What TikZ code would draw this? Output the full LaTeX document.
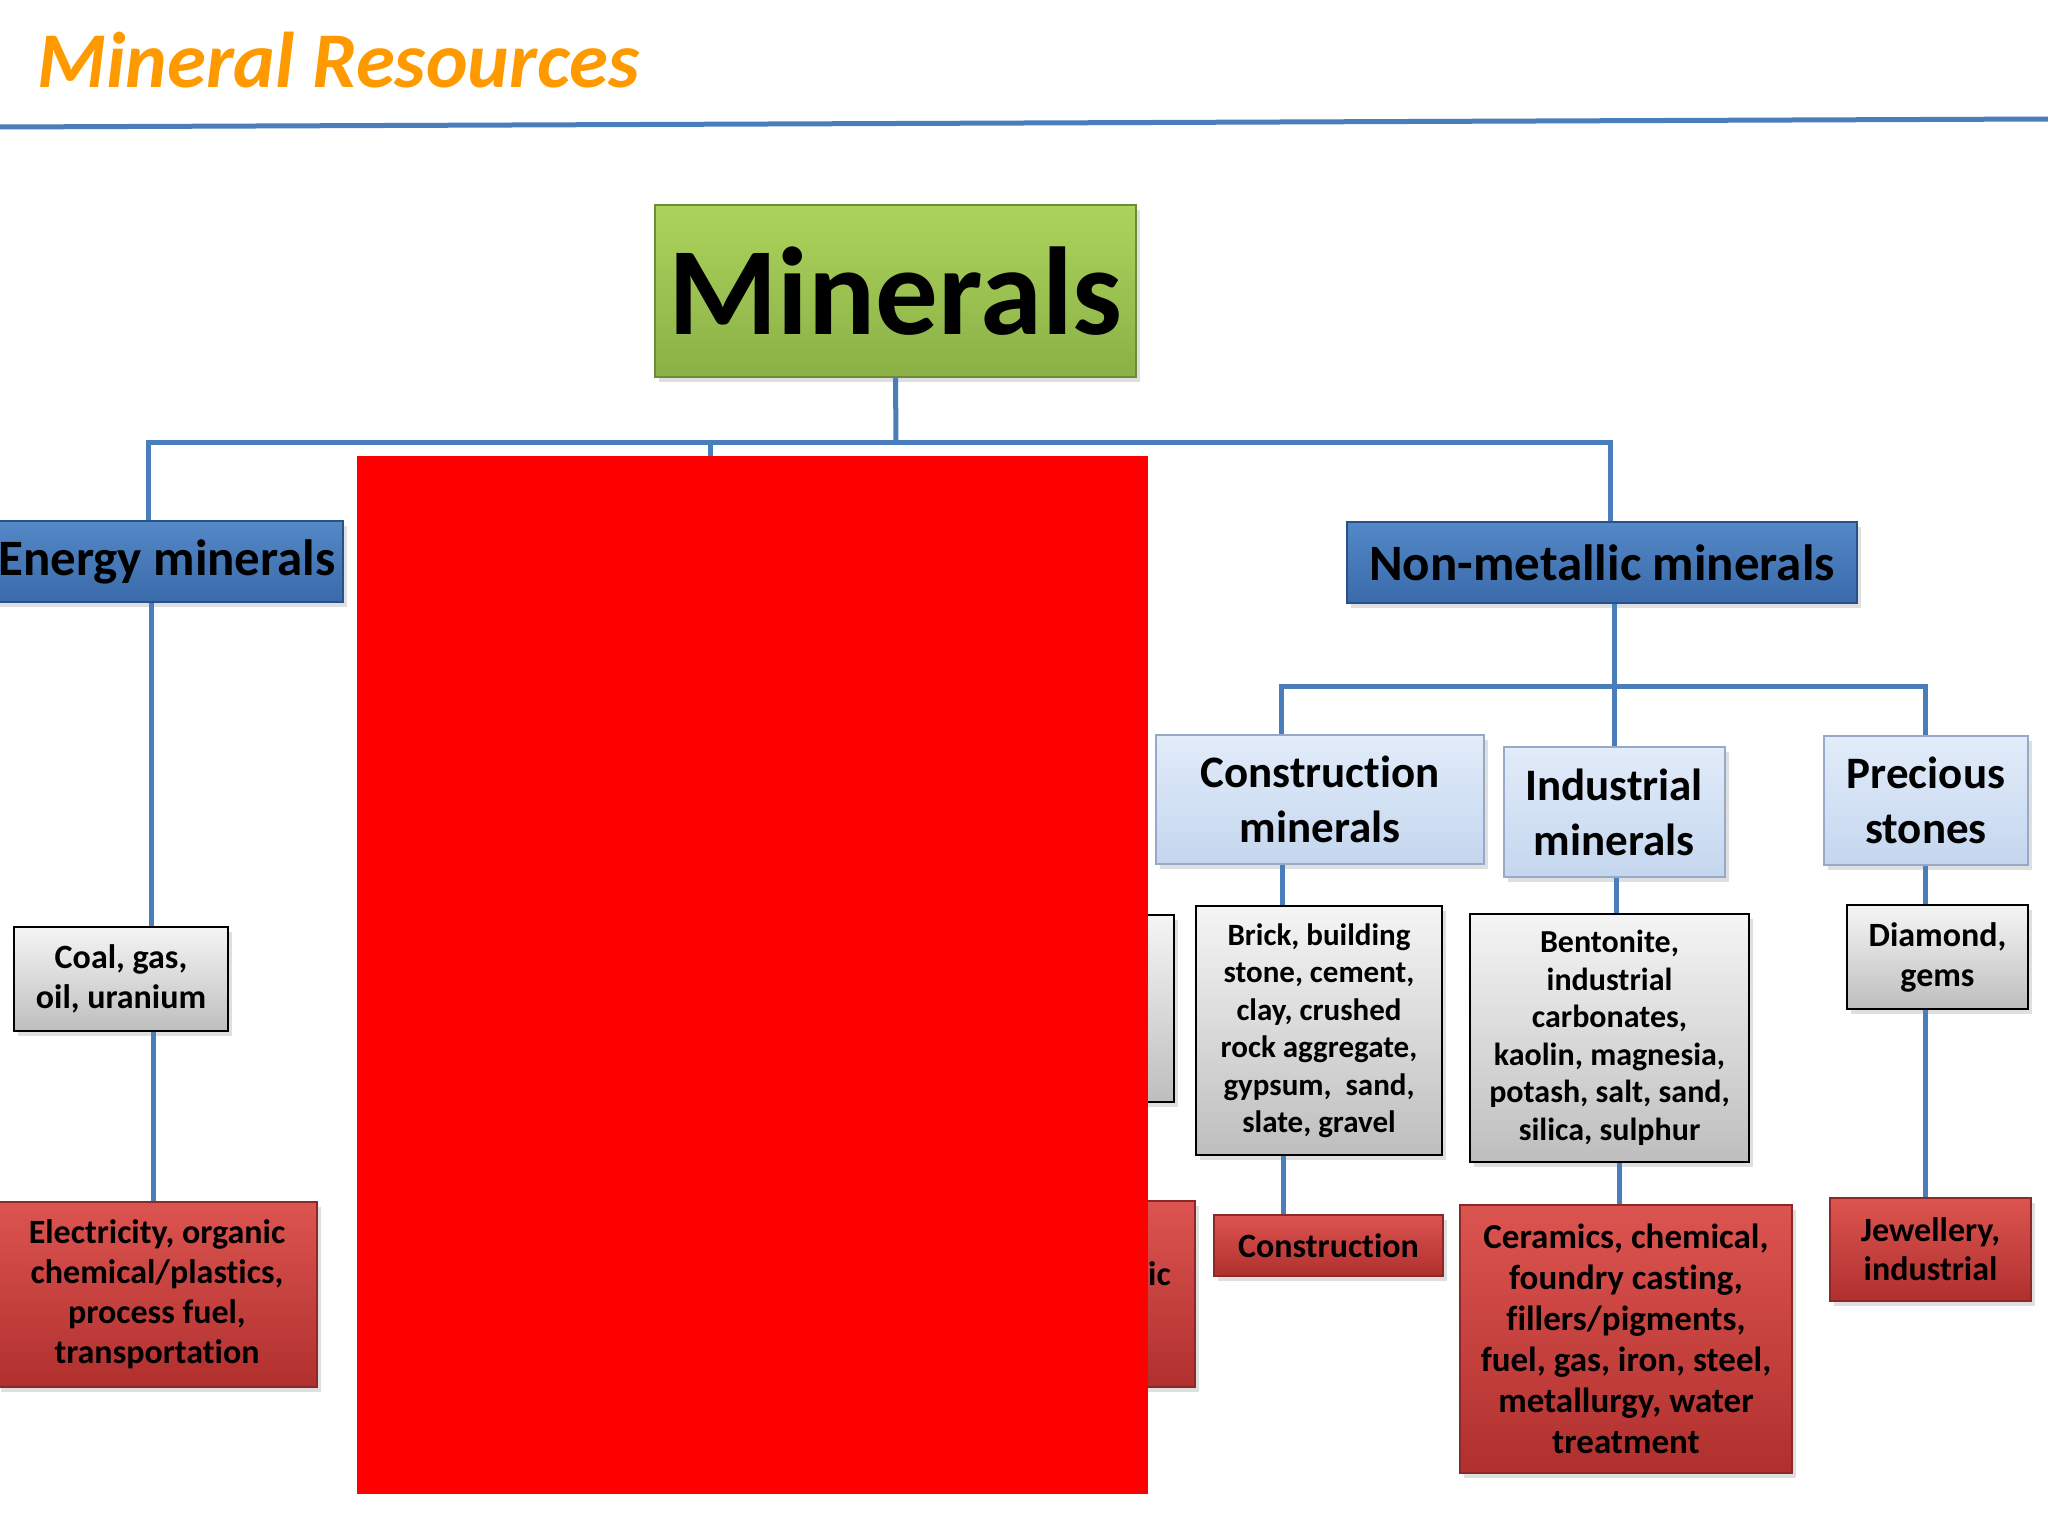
\documentclass[tikz,border=0pt]{standalone}
\usepackage{fontspec}
\setmainfont{Carlito}[Ligatures=NoCommon, Contextuals=NoAlternate, RawFeature={-liga;-clig}]
\usepackage{tikz}
\usetikzlibrary{shadows}

\definecolor{lineblue}{RGB}{74,126,187}
\definecolor{titleorange}{RGB}{255,153,0}
\definecolor{greentop}{RGB}{172,212,92}
\definecolor{greenbot}{RGB}{138,176,70}
\definecolor{greenedge}{RGB}{110,140,55}
\definecolor{bluetop}{RGB}{84,136,198}
\definecolor{bluebot}{RGB}{58,106,170}
\definecolor{blueedge}{RGB}{40,80,140}
\definecolor{paletop}{RGB}{226,236,250}
\definecolor{palebot}{RGB}{196,214,238}
\definecolor{paleedge}{RGB}{150,170,200}
\definecolor{greytop}{RGB}{245,245,245}
\definecolor{greybot}{RGB}{190,190,190}
\definecolor{redtop}{RGB}{220,84,80}
\definecolor{redbot}{RGB}{176,48,46}
\definecolor{rededge}{RGB}{140,40,38}

\newcommand{\fsz}[2]{\fontsize{#1}{#2}\selectfont}

\begin{document}
\begin{tikzpicture}[x=1pt, y=-1pt,
		conn/.style={draw=lineblue, line width=5pt},
		box/.style={inner sep=0pt, align=center,
			drop shadow={shadow xshift=4pt, shadow yshift=-5pt, opacity=0.25}},
		greenbox/.style={box, draw=greenedge, line width=2pt, top color=greentop, bottom color=greenbot},
		bluebox/.style={box, draw=blueedge, line width=2pt, top color=bluetop, bottom color=bluebot},
		palebox/.style={box, draw=paleedge, line width=2pt, top color=paletop, bottom color=palebot},
		greybox/.style={box, draw=black, line width=2.5pt, top color=greytop, bottom color=greybot},
		redbox/.style={box, draw=rededge, line width=2pt, top color=redtop, bottom color=redbot}
	]
	\useasboundingbox (0, 0) rectangle (2048, 1536);
	\fill [white] (0, 0) rectangle (2048, 1536);

	% heading
	\node [anchor=base west, inner sep=0pt, text=titleorange, font=\bfseries\itshape\fsz{79}{96}] (title) at (37, 88) {Mineral Resources};
	\draw [lineblue, line width=5pt] (0, 127) -- (2048, 119);

	% top level
	\node [greenbox, minimum width=481pt, minimum height=172pt, font=\bfseries\fsz{125}{140}] (minerals) at (895.5, 291) {Minerals};
	\node [bluebox, minimum width=352pt, minimum height=81pt, font=\bfseries\fsz{51}{60}] (energy) at (167, 561.5) {Energy minerals};
	\node [bluebox, minimum width=510pt, minimum height=81pt, font=\bfseries\fsz{51}{60}] (nonmet) at (1602, 562.5) {Non-metallic minerals};

	\coordinate (topbar) at (896, 442);
	\coordinate (subbar) at (1614, 686);
	\coordinate (hidstub) at (710, 600);

	% non-metallic groups
	\node [palebox, minimum width=328pt, minimum height=129pt, font=\bfseries\fsz{45}{55}] (constr) at (1320, 799.5) {Construction\\minerals};
	\node [palebox, minimum width=221pt, minimum height=130pt, font=\bfseries\fsz{45}{55}] (indust) at (1614, 812) {Industrial\\minerals};
	\node [palebox, minimum width=204pt, minimum height=129pt, font=\bfseries\fsz{45}{55}] (precious) at (1926, 800.5) {Precious\\stones};

	% examples
	\node [greybox, minimum width=214pt, minimum height=104pt, font=\bfseries\fsz{34}{40}] (coal) at (121, 979) {Coal, gas,\\oil, uranium};
	\node [greybox, minimum width=174pt, minimum height=187pt] (hidgrey) at (1087, 1008.5) {};
	\node [greybox, minimum width=246pt, minimum height=249pt, font=\bfseries\fsz{31}{37.5}] (brick) at (1319, 1030.5) {Brick, building\\stone, cement,\\clay, crushed\\rock aggregate,\\gypsum,\ \ sand,\\slate, gravel};
	\node [greybox, minimum width=279pt, minimum height=248pt, font=\bfseries\fsz{32}{37.5}] (bento) at (1609.5, 1038) {Bentonite,\\industrial\\carbonates,\\kaolin, magnesia,\\potash, salt, sand,\\silica, sulphur};
	\node [greybox, minimum width=181pt, minimum height=104pt, font=\bfseries\fsz{34}{40}] (diamond) at (1937.5, 957) {Diamond,\\gems};

	% uses
	\node [redbox, minimum width=320pt, minimum height=185pt, font=\bfseries\fsz{34}{40}] (elec) at (157, 1294.5) {Electricity, organic\\chemical/plastics,\\process fuel,\\transportation};
	\node [redbox, minimum width=245pt, minimum height=186pt] (hidred) at (1072.5, 1294) {};
	\node [anchor=base east, inner sep=0pt, font=\bfseries\fsz{34}{40}] (hidtext) at (1171, 1285) {ic};
	\node [redbox, minimum width=229pt, minimum height=61pt, font=\bfseries\fsz{34}{40}] (constuse) at (1328.5, 1245.5) {Construction};
	\node [redbox, minimum width=332pt, minimum height=268pt, font=\bfseries\fsz{35}{41}] (ceram) at (1626, 1339) {Ceramics, chemical,\\foundry casting,\\fillers/pigments,\\fuel, gas, iron, steel,\\metallurgy, water\\treatment};
	\node [redbox, minimum width=201pt, minimum height=103pt, font=\bfseries\fsz{34}{39}] (jewel) at (1930.5, 1249.5) {Jewellery,\\industrial};

	% connectors
	\draw [conn] (minerals.south) -- (topbar);
	\draw [conn] ([xshift=-19pt]energy.north) |- (topbar);
	\draw [conn] (topbar) -| ([xshift=8pt]nonmet.north);
	\draw [conn] (hidstub) |- (topbar);
	\draw [conn] ([xshift=-16pt]energy.south) -- ([xshift=30pt]coal.north);
	\draw [conn] ([xshift=32pt]coal.south) -- ([xshift=-4pt]elec.north);
	\draw [conn] ([xshift=12pt]nonmet.south) -- (subbar);
	\draw [conn] ([xshift=-39pt]constr.north) |- (subbar);
	\draw [conn] (subbar) -| ([xshift=-1pt]precious.north);
	\draw [conn] (subbar) -- (indust.north);
	\draw [conn] ([xshift=-38pt]constr.south) -- ([xshift=-37pt]brick.north);
	\draw [conn] ([xshift=-36pt]brick.south) -- ([xshift=-45.5pt]constuse.north);
	\draw [conn] ([xshift=2pt]indust.south) -- ([xshift=6.5pt]bento.north);
	\draw [conn] ([xshift=9.5pt]bento.south) -- ([xshift=-7pt]ceram.north);
	\draw [conn] ([xshift=-1pt]precious.south) -- ([xshift=-12.5pt]diamond.north);
	\draw [conn] ([xshift=-12.5pt]diamond.south) -- ([xshift=-5.5pt]jewel.north);

	% covered area
	\fill [red] (357, 456) rectangle (1148, 1494);
\end{tikzpicture}
\end{document}
